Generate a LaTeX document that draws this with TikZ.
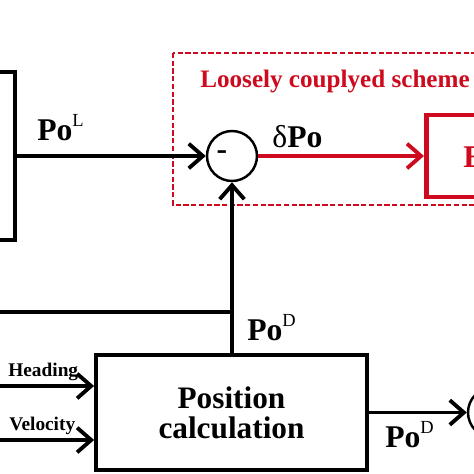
\documentclass[tikz,border=0pt]{standalone}
\usepackage{fontspec}
\setmainfont{Liberation Serif}
\usetikzlibrary{arrows.meta}
\definecolor{schemered}{RGB}{206,10,30}
\newcommand{\polabel}[1]{Po{\mdseries\fontsize{10.5}{10.5}\selectfont\raisebox{7.5pt}{#1}}}

\begin{document}
\begin{tikzpicture}[x=0.02cm,y=-0.02cm,
  blk/.style={draw,line width=2.2pt,inner sep=0pt},
  sumnode/.style={draw,circle,line width=1.4pt,minimum size=1cm,inner sep=0pt},
  arr/.style={line width=2.2pt,-{Straight Barb[length=8pt,width=14pt]}},
  lbl/.style={font=\fontsize{18}{18}\selectfont\bfseries,inner sep=0pt},
  small/.style={font=\fontsize{11}{11}\selectfont\bfseries,inner sep=0pt}]
\useasboundingbox (0,0) rectangle (474,474);
\clip (0,0) rectangle (474,474);

% loosely coupled part
\draw[schemered,line width=1.7pt,dash pattern=on 3pt off 1.4pt] (173,53) rectangle (540,205);
\node[font=\fontsize{14.3}{14.3}\selectfont\bfseries,text=schemered,inner sep=0pt,anchor=base west] (scheme) at (200,87) {Loosely couplyed scheme};

\node[blk,minimum width=1.5cm,minimum height=3.36cm] (src) at (-22.5,156) {};
\node[sumnode] (sum1) at (232,156) {};
\node[lbl] (minus) at (222,155) {-};
\node[blk,draw=schemered,line width=2.6pt,minimum width=2.4cm,minimum height=1.64cm,anchor=west] (ekf) at (424,156) {};
\node[lbl,text=schemered,anchor=base west] (ekftxt) at (463,167) {E};

\node[blk,minimum width=5.42cm,minimum height=2.3cm,align=center,font=\fontsize{17.8}{17}\selectfont\bfseries] (pos) at (231.5,412.5) {Position\\calculation};
\node[sumnode] (sum2) at (493,412.5) {};

\coordinate (fb) at (-5,312);
\coordinate (hin) at (-5,386);
\coordinate (vin) at (-5,440);

\draw[arr] (src.east |- sum1) -- (sum1.west);
\draw[arr,schemered] (sum1.east) -- (sum1.east -| ekf.west);
\draw[arr] (pos.north -| sum1) -- (sum1.south);
\draw[line width=2.2pt] (fb) -- (fb -| sum1);
\draw[arr] (hin) -- (hin -| pos.west);
\draw[arr] (vin) -- (vin -| pos.west);
\draw[arr] (pos.east) -- (sum2.west);

\node[lbl,anchor=base west] (poL) at (37,140) {\polabel{L}};
\node[lbl,anchor=base west] (dpo) at (272,147) {{\mdseries δ}Po};
\node[lbl,anchor=base west] (poD1) at (247,340) {\polabel{D}};
\node[lbl,anchor=base west] (poD2) at (385,447) {\polabel{D}};
\node[small,anchor=base west] (head) at (8,376) {Heading};
\node[small,anchor=base west] (velo) at (9,430) {Velocity};
\end{tikzpicture}
\end{document}
